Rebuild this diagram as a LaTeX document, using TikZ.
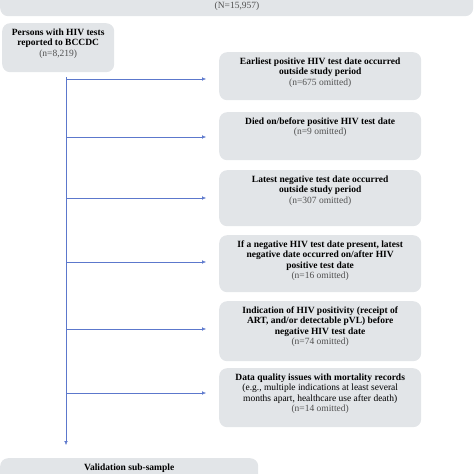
\documentclass[tikz,border=0pt]{standalone}
\usepackage{fontspec}
\setmainfont{Liberation Serif}
\usetikzlibrary{positioning,arrows.meta}
\definecolor{boxgray}{RGB}{226,229,232}
\definecolor{flowblue}{RGB}{92,120,204}
\definecolor{countgray}{RGB}{80,80,80}
\newcommand{\boxbody}[3]{\parbox[c][#1pt][t]{#2pt}{\centering\rule{0pt}{12pt}#3}}
\newcommand{\cnt}[1]{{\color{countgray}#1}}

\begin{document}
\begin{tikzpicture}[x=1pt, y=-1pt,
font=\fontsize{9.5}{10.4}\selectfont,
greybox/.style={rectangle, rounded corners=8pt, fill=boxgray, inner sep=0pt, anchor=north west},
flow/.style={draw=flowblue, -{Latex[length=4pt,width=3.5pt]}, shorten >=13pt},
]
\useasboundingbox (0,0) rectangle (474,474);
%Nodes
\node[greybox, minimum width=473pt, minimum height=40pt] (total) at (0,-24) {};
\node (totaln) at (237,6) {\cnt{(N=15,957)}};
\node[greybox] (persons) at (2,23) {\boxbody{49}{112}{\textbf{Persons with HIV tests\\reported to BCCDC}\\\cnt{(n=8,219)}}};
\node[greybox] (ex1) at (219,52) {\boxbody{48}{202}{\textbf{Earliest positive HIV test date occurred\\outside study period}\\\cnt{(n=675 omitted)}}};
\node[greybox] (ex2) at (219,112) {\boxbody{48}{202}{\textbf{Died on/before positive HIV test date}\\\cnt{(n=9 omitted)}}};
\node[greybox] (ex3) at (219,170) {\boxbody{56}{202}{\textbf{Latest negative test date occurred\\outside study period}\\\cnt{(n=307 omitted)}}};
\node[greybox] (ex4) at (219,235) {\boxbody{57}{202}{\textbf{If a negative HIV test date present, latest\\negative date occurred on/after HIV\\positive test date}\\\cnt{(n=16 omitted)}}};
\node[greybox] (ex5) at (219,301) {\boxbody{60}{202}{\textbf{Indication of HIV positivity (receipt of\\ART, and/or detectable pVL) before\\negative HIV test date}\\\cnt{(n=74 omitted)}}};
\node[greybox] (ex6) at (219,368) {\boxbody{59}{202}{\textbf{Data quality issues with mortality records}\\(e.g., multiple indications at least several\\months apart, healthcare use after death)\\\cnt{(n=14 omitted)}}};
\node[greybox] (valid) at (0,458) {\boxbody{30}{258}{\textbf{Validation sub-sample}}};
\coordinate (trunk) at (66,77);

%Lines
\draw[flow] (trunk) -- (trunk |- valid.north);
\draw[flow] (trunk |- 0,79) -- (ex1.west |- 0,79);
\draw[flow] (trunk |- 0,137) -- (ex2.west |- 0,137);
\draw[flow] (trunk |- 0,198) -- (ex3.west |- 0,198);
\draw[flow] (trunk |- 0,262) -- (ex4.west |- 0,262);
\draw[flow] (trunk |- 0,329) -- (ex5.west |- 0,329);
\draw[flow] (trunk |- 0,393) -- (ex6.west |- 0,393);
\end{tikzpicture}
\end{document}
